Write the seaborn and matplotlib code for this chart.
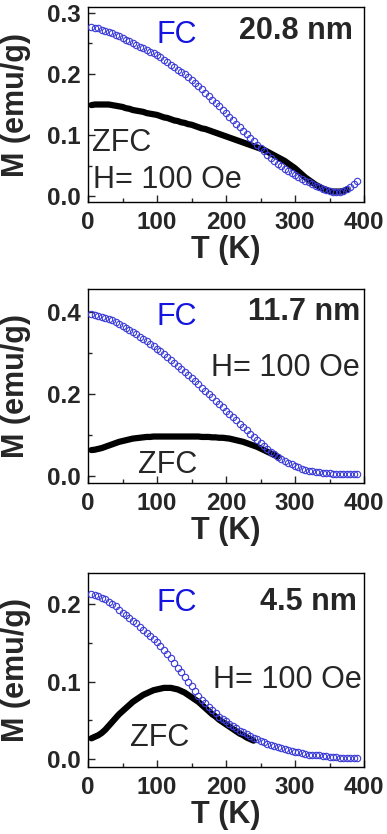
import seaborn as sns
import matplotlib
matplotlib.use('Agg')
import matplotlib.pyplot as plt
from matplotlib.ticker import MultipleLocator, FormatStrFormatter

# Temperaturas (K) das medidas
T = [5, 10, 15, 20, 25, 30, 35, 40, 45, 50, 55, 60, 65, 70, 75, 80, 85, 90, 95, 100,
     105, 110, 115, 120, 125, 130, 135, 140, 145, 150, 155, 160, 165, 170, 175, 180, 185, 190, 195, 200,
     205, 210, 215, 220, 225, 230, 235, 240, 245, 250, 255, 260, 265, 270, 275, 280, 285, 290, 295, 300,
     305, 310, 315, 320, 325, 330, 335, 340, 345, 350, 355, 360, 365, 370, 375, 380, 385, 390]

# 20.8 nm
fc_208 = [0.276, 0.275, 0.274, 0.272, 0.270, 0.268, 0.266, 0.263, 0.261, 0.258,
          0.2555, 0.253, 0.250, 0.247, 0.2445, 0.242, 0.239, 0.236, 0.2335, 0.231,
          0.227, 0.223, 0.219, 0.215, 0.211, 0.207, 0.203, 0.199, 0.1945, 0.190,
          0.185, 0.180, 0.1745, 0.169, 0.1635, 0.158, 0.1525, 0.147, 0.1415, 0.136,
          0.130, 0.124, 0.1185, 0.113, 0.107, 0.1015, 0.096, 0.090, 0.0845, 0.079,
          0.0735, 0.068, 0.063, 0.058, 0.0535, 0.049, 0.045, 0.0415, 0.038, 0.035,
          0.032, 0.029, 0.026, 0.023, 0.020, 0.0175, 0.015, 0.013, 0.011, 0.0095,
          0.008, 0.0072, 0.0075, 0.009, 0.012, 0.016, 0.021, 0.026]
zfc_208 = [0.149, 0.150, 0.150, 0.150, 0.150, 0.150, 0.149, 0.148, 0.147, 0.146,
           0.144, 0.143, 0.141, 0.140, 0.139, 0.138, 0.136, 0.135, 0.134, 0.133,
           0.131, 0.129, 0.128, 0.126, 0.124, 0.123, 0.121, 0.120, 0.118, 0.117,
           0.115, 0.113, 0.111, 0.110, 0.108, 0.106, 0.104, 0.102, 0.100, 0.098,
           0.096, 0.094, 0.092, 0.090, 0.088, 0.086, 0.084, 0.082, 0.080, 0.078,
           0.076, 0.073, 0.070, 0.067, 0.064, 0.061, 0.058, 0.054, 0.050, 0.046,
           0.041, 0.036, 0.031, 0.027, 0.023, 0.019, 0.016, 0.013, 0.011, 0.009,
           0.008, 0.008, 0.008, 0.009, 0.011]

# 11.7 nm
fc_117 = [0.393, 0.392, 0.390, 0.388, 0.385, 0.382, 0.379, 0.375, 0.371, 0.366,
          0.361, 0.356, 0.350, 0.345, 0.339, 0.334, 0.328, 0.322, 0.316, 0.310,
          0.303, 0.296, 0.289, 0.282, 0.275, 0.268, 0.261, 0.254, 0.246, 0.239,
          0.231, 0.223, 0.215, 0.207, 0.199, 0.191, 0.183, 0.175, 0.167, 0.159,
          0.151, 0.143, 0.135, 0.127, 0.119, 0.111, 0.103, 0.095, 0.087, 0.080,
          0.073, 0.066, 0.059, 0.053, 0.047, 0.042, 0.037, 0.032, 0.028, 0.024,
          0.021, 0.018, 0.015, 0.013, 0.011, 0.010, 0.009, 0.008, 0.007, 0.007,
          0.006, 0.006, 0.006, 0.006, 0.006, 0.006, 0.006, 0.006]
zfc_117 = [0.063, 0.064, 0.066, 0.068, 0.071, 0.074, 0.077, 0.080, 0.083, 0.085,
           0.087, 0.089, 0.091, 0.092, 0.093, 0.094, 0.095, 0.095, 0.096, 0.096,
           0.096, 0.096, 0.096, 0.096, 0.096, 0.096, 0.096, 0.096, 0.096, 0.096,
           0.096, 0.096, 0.095, 0.095, 0.095, 0.094, 0.094, 0.093, 0.093, 0.092,
           0.091, 0.089, 0.087, 0.085, 0.083, 0.080, 0.077, 0.074, 0.071, 0.067,
           0.063, 0.059, 0.055, 0.051, 0.047]

# 4.5 nm
fc_45 = [0.213, 0.212, 0.210, 0.208, 0.206, 0.203, 0.200, 0.197, 0.193, 0.189,
         0.186, 0.182, 0.178, 0.175, 0.171, 0.167, 0.163, 0.159, 0.155, 0.151,
         0.146, 0.141, 0.136, 0.130, 0.124, 0.118, 0.112, 0.106, 0.100, 0.094,
         0.088, 0.082, 0.077, 0.072, 0.067, 0.063, 0.059, 0.055, 0.052, 0.049,
         0.046, 0.043, 0.040, 0.037, 0.035, 0.032, 0.030, 0.028, 0.026, 0.024,
         0.022, 0.020, 0.019, 0.017, 0.016, 0.014, 0.013, 0.012, 0.011, 0.010,
         0.009, 0.008, 0.007, 0.006, 0.006, 0.005, 0.005, 0.004, 0.004, 0.003,
         0.003, 0.003, 0.002, 0.002, 0.002, 0.001, 0.001, 0.001]
zfc_45 = [0.027, 0.029, 0.031, 0.034, 0.038, 0.043, 0.048, 0.053, 0.058, 0.062,
          0.066, 0.070, 0.074, 0.077, 0.080, 0.083, 0.085, 0.087, 0.089, 0.090,
          0.091, 0.092, 0.092, 0.092, 0.091, 0.090, 0.088, 0.086, 0.083, 0.080,
          0.077, 0.074, 0.070, 0.066, 0.062, 0.058, 0.055, 0.051, 0.048, 0.045,
          0.042, 0.039, 0.036, 0.033, 0.031, 0.028, 0.026, 0.024]

sizes = ['20.8 nm', '11.7 nm', '4.5 nm']

sns.set_style('ticks')
plt.rcParams['font.family'] = ['Liberation Sans', 'DejaVu Sans']

fig = plt.figure(figsize=(3.87, 8.34), dpi=100)

# posicao dos paineis [left, bottom, width, height]
rects = [[0.2274, 0.7578, 0.7132, 0.2338],
         [0.2274, 0.4209, 0.7132, 0.2326],
         [0.2274, 0.0803, 0.7132, 0.2326]]
ylims = [(-0.009, 0.309), (-0.017, 0.455), (-0.010, 0.240)]
ymajor = [0.1, 0.2, 0.1]
fcs = [fc_208, fc_117, fc_45]
zfcs = [zfc_208, zfc_117, zfc_45]
# posicoes dos textos (coords do eixo)
h_pos = [(0.019, 0.113, 'left'), (0.985, 0.593, 'right'), (0.99, 0.448, 'right')]
zfc_pos = [(0.013, 0.305), (0.182, 0.093), (0.152, 0.152)]
size_pos = [(0.96, 0.878), (0.985, 0.881), (0.973, 0.852)]
fc_pos = [(0.249, 0.856), (0.249, 0.857), (0.249, 0.844)]

for i in range(3):
    ax = fig.add_axes(rects[i])
    zfc = zfcs[i]
    sns.lineplot(x=T[:len(zfc)], y=zfc, ax=ax, color='black', linewidth=4.5,
                 estimator=None, zorder=2)
    sns.lineplot(x=T, y=fcs[i], ax=ax, color='#3a3ad8', linestyle='', marker='o',
                 markersize=4.6, markerfacecolor='none', markeredgecolor='#3a3ad8',
                 markeredgewidth=0.8, estimator=None, zorder=3)

    ax.set_xlim(0, 400)
    ax.set_ylim(*ylims[i])
    ax.xaxis.set_major_locator(MultipleLocator(100))
    ax.xaxis.set_minor_locator(MultipleLocator(50))
    ax.yaxis.set_major_locator(MultipleLocator(ymajor[i]))
    ax.yaxis.set_minor_locator(MultipleLocator(ymajor[i] / 2))
    ax.yaxis.set_major_formatter(FormatStrFormatter('%.1f'))
    ax.tick_params(which='both', direction='in', top=False, right=False, width=1)
    ax.tick_params(which='major', length=5)
    ax.tick_params(which='minor', length=3)
    ax.tick_params(axis='x', pad=6.5)
    ax.tick_params(axis='y', pad=5.5)
    for lab in ax.get_xticklabels() + ax.get_yticklabels():
        lab.set_fontsize(17.5)
        lab.set_fontweight('bold')
    for sp in ax.spines.values():
        sp.set_linewidth(1)
        sp.set_color('black')

    ax.set_xlabel('T (K)', fontsize=22, fontweight='bold')
    ax.set_ylabel('M (emu/g)', fontsize=22, fontweight='bold')
    ax.xaxis.set_label_coords(0.5, -0.168)
    ax.yaxis.set_label_coords(-0.205, 0.5)

    ax.text(fc_pos[i][0], fc_pos[i][1], 'FC', transform=ax.transAxes, color='#1515e0',
            fontsize=22, ha='left', va='center')
    ax.text(size_pos[i][0], size_pos[i][1], sizes[i], transform=ax.transAxes,
            fontsize=22, fontweight='bold', ha='right', va='center')
    ax.text(zfc_pos[i][0], zfc_pos[i][1], 'ZFC', transform=ax.transAxes,
            fontsize=22, ha='left', va='center')
    ax.text(h_pos[i][0], h_pos[i][1], 'H= 100 Oe', transform=ax.transAxes,
            fontsize=22, ha=h_pos[i][2], va='center')

plt.savefig('out.png', dpi=100)
